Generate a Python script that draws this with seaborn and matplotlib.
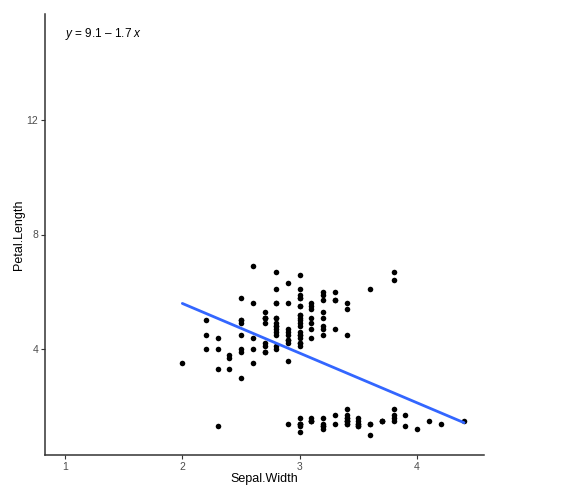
import numpy as np
import pandas as pd
import matplotlib
matplotlib.use("Agg")
import matplotlib.pyplot as plt
import seaborn as sns

# iris: Sepal.Width vs Petal.Length
sepal_width = [
    3.5, 3.0, 3.2, 3.1, 3.6, 3.9, 3.4, 3.4, 2.9, 3.1, 3.7, 3.4, 3.0, 3.0, 4.0, 4.4, 3.9, 3.5, 3.8, 3.8,
    3.4, 3.7, 3.6, 3.3, 3.4, 3.0, 3.4, 3.5, 3.4, 3.2, 3.1, 3.4, 4.1, 4.2, 3.1, 3.2, 3.5, 3.6, 3.0, 3.4,
    3.5, 2.3, 3.2, 3.5, 3.8, 3.0, 3.8, 3.2, 3.7, 3.3,
    3.2, 3.2, 3.1, 2.3, 2.8, 2.8, 3.3, 2.4, 2.9, 2.7, 2.0, 3.0, 2.2, 2.9, 2.9, 3.1, 3.0, 2.7, 2.2, 2.5,
    3.2, 2.8, 2.5, 2.8, 2.9, 3.0, 2.8, 3.0, 2.9, 2.6, 2.4, 2.4, 2.7, 2.7, 3.0, 3.4, 3.1, 2.3, 3.0, 2.5,
    2.6, 3.0, 2.6, 2.3, 2.7, 3.0, 2.9, 2.9, 2.5, 2.8,
    3.3, 2.7, 3.0, 2.9, 3.0, 3.0, 2.5, 2.9, 2.5, 3.6, 3.2, 2.7, 3.0, 2.5, 2.8, 3.2, 3.0, 3.8, 2.6, 2.2,
    3.2, 2.8, 2.8, 2.7, 3.3, 3.2, 2.8, 3.0, 2.8, 3.0, 2.8, 3.8, 2.8, 2.8, 2.6, 3.0, 3.4, 3.1, 3.0, 3.1,
    3.1, 3.1, 2.7, 3.2, 3.3, 3.0, 2.5, 3.0, 3.4, 3.0,
]
petal_length = [
    1.4, 1.4, 1.3, 1.5, 1.4, 1.7, 1.4, 1.5, 1.4, 1.5, 1.5, 1.6, 1.4, 1.1, 1.2, 1.5, 1.3, 1.4, 1.7, 1.5,
    1.7, 1.5, 1.0, 1.7, 1.9, 1.6, 1.6, 1.5, 1.4, 1.6, 1.6, 1.5, 1.5, 1.4, 1.5, 1.2, 1.3, 1.4, 1.3, 1.5,
    1.3, 1.3, 1.3, 1.6, 1.9, 1.4, 1.6, 1.4, 1.5, 1.4,
    4.7, 4.5, 4.9, 4.0, 4.6, 4.5, 4.7, 3.3, 4.6, 3.9, 3.5, 4.2, 4.0, 4.7, 3.6, 4.4, 4.5, 4.1, 4.5, 3.9,
    4.8, 4.0, 4.9, 4.7, 4.3, 4.4, 4.8, 5.0, 4.5, 3.5, 3.8, 3.7, 3.9, 5.1, 4.5, 4.5, 4.7, 4.4, 4.1, 4.0,
    4.4, 4.6, 4.0, 3.3, 4.2, 4.2, 4.2, 4.3, 3.0, 4.1,
    6.0, 5.1, 5.9, 5.6, 5.8, 6.6, 4.5, 6.3, 5.8, 6.1, 5.1, 5.3, 5.5, 5.0, 5.1, 5.3, 5.5, 6.7, 6.9, 5.0,
    5.7, 4.9, 6.7, 4.9, 5.7, 6.0, 4.8, 4.9, 5.6, 5.8, 6.1, 6.4, 5.6, 5.1, 5.6, 6.1, 5.6, 5.5, 4.8, 5.4,
    5.6, 5.1, 5.1, 5.9, 5.7, 5.2, 5.0, 5.2, 5.4, 5.1,
]
eq_label = r"$y$ = 9.1 – 1.7 $x$"
x_ticks = [1, 2, 3, 4]
y_ticks = [4, 8, 12]

df = pd.DataFrame({"Sepal.Width": sepal_width, "Petal.Length": petal_length})

sns.set_theme(style="white")
plt.rcParams["font.family"] = ["Liberation Sans", "DejaVu Sans"]
plt.rcParams["mathtext.fontset"] = "custom"
plt.rcParams["mathtext.it"] = "Liberation Sans:italic"
plt.rcParams["mathtext.rm"] = "Liberation Sans"

fig = plt.figure(figsize=(5.71, 5.01), dpi=100)
ax = fig.add_axes([45 / 571, 46 / 501, 439 / 571, 441 / 501])

sns.scatterplot(data=df, x="Sepal.Width", y="Petal.Length", color="black",
                s=16, linewidth=0, ax=ax)
sns.regplot(data=df, x="Sepal.Width", y="Petal.Length", scatter=False, ci=None,
            truncate=True, color="#3366FF", line_kws={"lw": 2}, ax=ax)

ax.text(1, 15, eq_label, ha="left", va="center", fontsize=8.5, color="black")

ax.set_xlim(0.83, 4.57)
ax.set_ylim(0.3, 15.7)
ax.set_xticks(x_ticks)
ax.set_yticks(y_ticks)
ax.tick_params(axis="both", which="both", direction="out", length=3, width=0.8,
               color="#333333", labelcolor="#4d4d4d", labelsize=7.5, pad=2,
               bottom=True, left=True)
for side in ["top", "right"]:
    ax.spines[side].set_visible(False)
for side in ["left", "bottom"]:
    ax.spines[side].set_color("#333333")
    ax.spines[side].set_linewidth(1.1)
ax.set_xlabel("Sepal.Width", fontsize=9, color="black", labelpad=1)
ax.set_ylabel("Petal.Length", fontsize=9, color="black", labelpad=1)

fig.savefig("out.png", dpi=100)
